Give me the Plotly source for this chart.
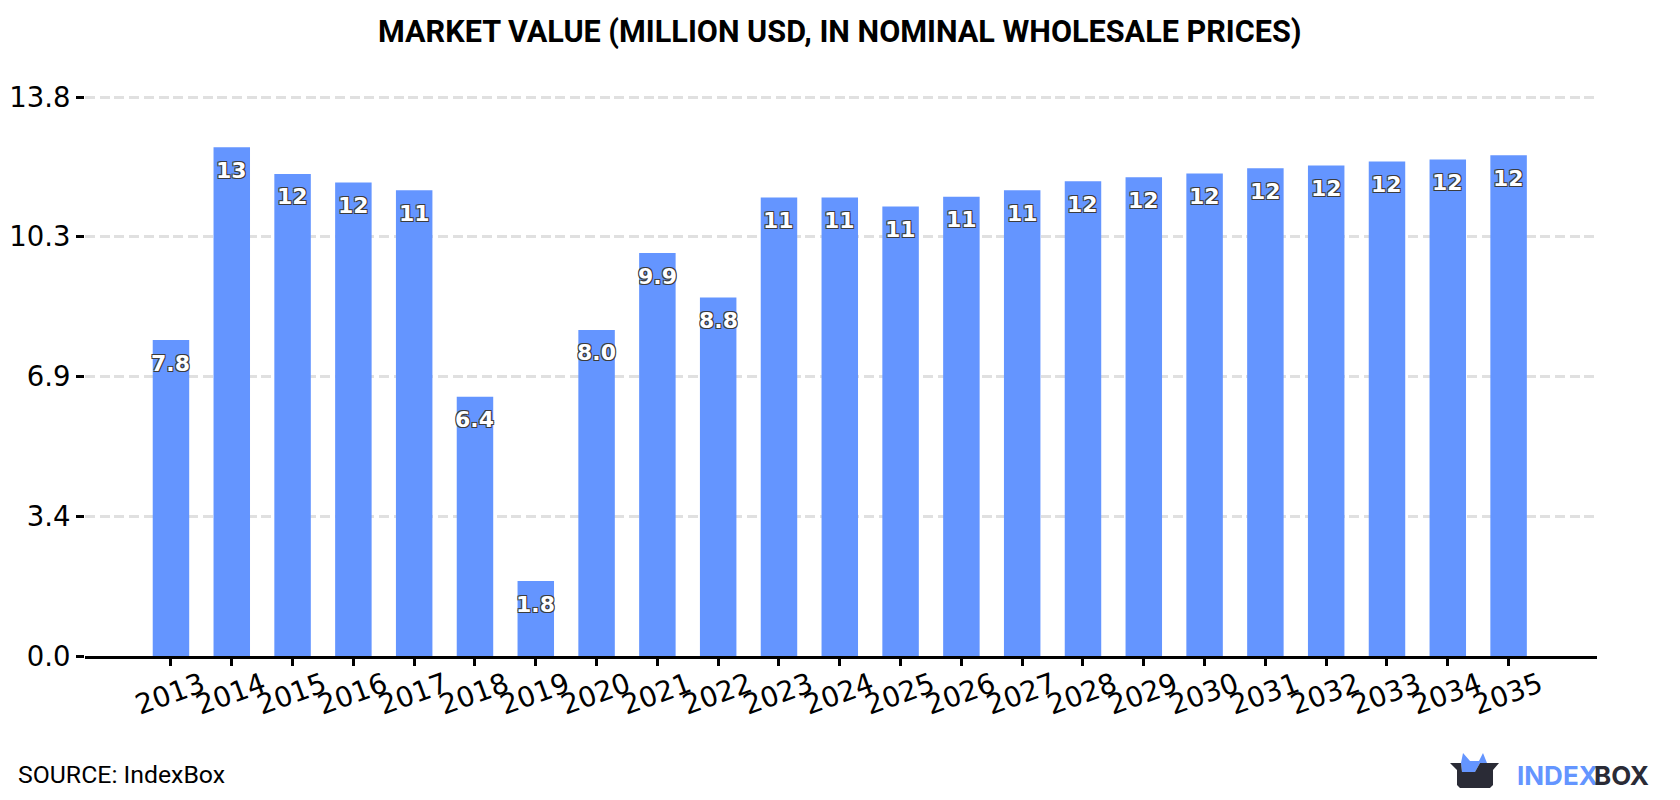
import plotly.graph_objects as go

years = list(range(2013, 2036))
values = [7.8, 12.56, 11.9, 11.69, 11.499, 6.4, 1.849, 8.049, 9.949, 8.849, 11.32, 11.32,
          11.1, 11.34, 11.499, 11.72, 11.82, 11.91, 12.04, 12.11, 12.21, 12.26, 12.36]
y_tick_values = [0, 3.45, 6.9, 10.35, 13.8]
y_tick_labels = ["0.0", "3.4", "6.9", "10.3", "13.8"]

W, H = 1680, 800
LEFT, RIGHT, TOP, BOTTOM = 85, 1597, 94.5, 656
BLUE = "#6495ff"
DARK = "#2a2b36"
OUTLINE = "#3c3c3c"


def px(x):
    # page pixel column to plot-area fraction
    return (x - LEFT) / (RIGHT - LEFT)


def py(y):
    # page pixel row to plot-area fraction
    return (BOTTOM - y) / (BOTTOM - TOP)


def path(points):
    return "M" + " L".join(f"{px(x):.5f},{py(y):.5f}" for x, y in points) + " Z"


def two_digits(v):
    return f"{v:.1f}" if v < 9.95 else f"{v:.0f}"


# Logo: a dark open box with a blue crown rising out of it
crown = [(1461, 763), (1463, 753), (1470, 761), (1479, 761), (1483, 753),
         (1487, 763), (1480, 763), (1475, 772), (1462, 772)]
box = [(1450, 763), (1461, 763), (1462, 772), (1475, 772), (1480, 763), (1499, 763),
       (1493, 770), (1493, 785), (1490, 788), (1460, 788), (1457, 785), (1457, 770)]
logo_shapes = [
    dict(type="path", xref="paper", yref="paper", path=path(crown),
         fillcolor=BLUE, line_width=0, layer="above"),
    dict(type="path", xref="paper", yref="paper", path=path(box),
         fillcolor=DARK, line_width=0, layer="above"),
]

label_font = dict(
    family="DejaVu Sans",
    size=22,
    weight="bold",
    color="white",
    shadow=f"-1px -1px 0 {OUTLINE}, 1px -1px 0 {OUTLINE}, -1px 1px 0 {OUTLINE}, 1px 1px 0 {OUTLINE}",
)
value_labels = [
    dict(x=yr, y=v, xref="x", yref="y", text=two_digits(v), showarrow=False,
         xanchor="center", yanchor="middle", yshift=-23, font=label_font)
    for yr, v in zip(years, values)
]

fig = go.Figure(
    go.Bar(
        x=years,
        y=values,
        width=0.6,
        marker=dict(color=BLUE, line_width=0),
        hoverinfo="x+y",
    )
)

fig.update_layout(
    width=W,
    height=H,
    margin=dict(l=LEFT, r=W - RIGHT, t=TOP, b=H - BOTTOM, autoexpand=False),
    paper_bgcolor="white",
    plot_bgcolor="white",
    showlegend=False,
    title=dict(
        text="MARKET VALUE (MILLION USD, IN NOMINAL WHOLESALE PRICES)",
        font=dict(family="Roboto", size=30.6, weight="bold", color="black"),
        x=0.4992,
        xref="paper",
        xanchor="center",
        y=1 - 31 / H,
        yanchor="middle",
    ),
    xaxis=dict(
        type="linear",
        range=[2013 - 1.414, 2035 + 1.454],
        tickmode="array",
        tickvals=years,
        ticktext=[str(y) for y in years],
        tickangle=-20,
        ticklabelshift=31,
        ticklabelstandoff=-8,
        ticks="outside",
        ticklen=7,
        tickwidth=2.5,
        tickcolor="black",
        showline=True,
        linecolor="black",
        linewidth=3,
        showgrid=False,
        zeroline=False,
        tickfont=dict(family="DejaVu Sans", size=28, color="black"),
    ),
    yaxis=dict(
        range=[0, 13.85],
        tickmode="array",
        tickvals=y_tick_values,
        ticktext=y_tick_labels,
        ticks="outside",
        ticklen=8,
        tickwidth=3,
        tickcolor="black",
        showline=False,
        zeroline=False,
        showgrid=True,
        gridcolor="#e0e0e0",
        gridwidth=3,
        griddash="10px,4.7px",
        tickfont=dict(family="DejaVu Sans", size=27.5, color="black"),
    ),
    shapes=logo_shapes,
    annotations=value_labels + [
        dict(text="SOURCE: IndexBox", xref="paper", yref="paper", x=px(16), y=py(775),
             xanchor="left", yanchor="middle", showarrow=False,
             font=dict(family="Roboto", size=24.8, color="black")),
        dict(text="INDEX", xref="paper", yref="paper", x=px(1515), y=py(776),
             xanchor="left", yanchor="middle", showarrow=False,
             font=dict(family="Inter", size=26, weight="bold", color=BLUE)),
        dict(text="BOX", xref="paper", yref="paper", x=px(1651), y=py(776),
             xanchor="right", yanchor="middle", showarrow=False,
             font=dict(family="Inter", size=26, weight="bold", color=DARK)),
    ],
)

fig.write_html("out.html")
